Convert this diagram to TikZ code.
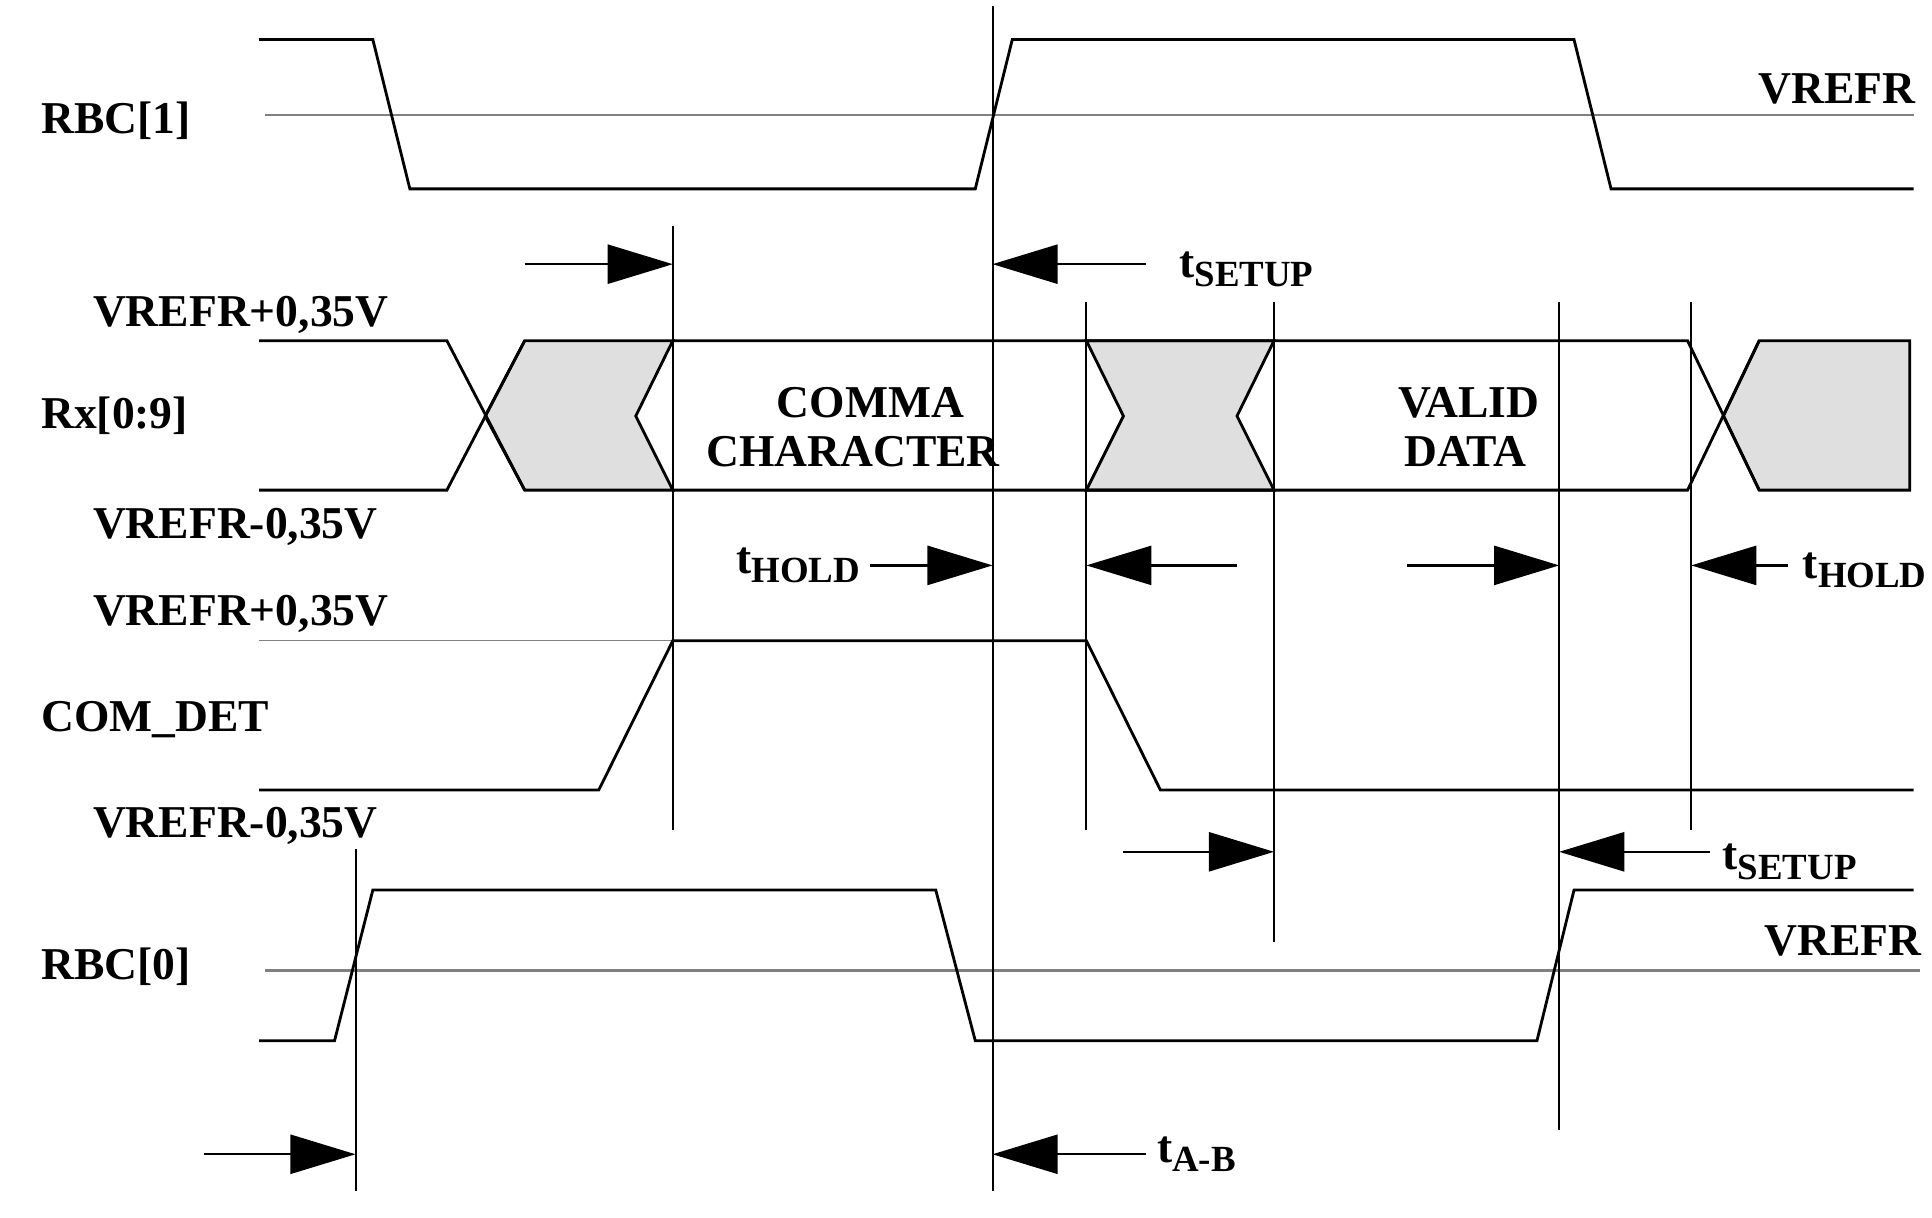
\documentclass[tikz,border=0pt]{standalone}
\usepackage{fontspec}
\setmainfont{Liberation Serif}
\usetikzlibrary{arrows.meta}
\begin{document}
\begin{tikzpicture}[x=0.02cm,y=-0.02cm,
  sig/.style={line width=1.3pt},
  ref/.style={draw=gray,line width=0.8pt},
  vl/.style={line width=0.9pt},
  arr/.style={line width=1.1pt,-{Triangle[length=30pt,width=18pt]}},
  lab/.style={font=\bfseries\fontsize{21}{25}\selectfont,inner sep=0pt},
  shade/.style={fill=gray!25,draw=black,line width=1.3pt}]
\newcommand{\tsub}[1]{t\raisebox{-0.45ex}{\fontsize{17}{20}\selectfont #1}}
\useasboundingbox (0,0) rectangle (1565,986);
% labels
\node[lab,anchor=west] (l1) at (33,98) {RBC[1]};
\node[lab,anchor=west] (l2) at (75,255) {VREFR+0,35V};
\node[lab,anchor=west] (l3) at (33,337) {Rx[0:9]};
\node[lab,anchor=west] (l4) at (75,427) {VREFR-0,35V};
\node[lab,anchor=west] (l5) at (75,497) {VREFR+0,35V};
\node[lab,anchor=west] (l6) at (33,583) {COM\_DET};
\node[lab,anchor=west] (l7) at (75,669) {VREFR-0,35V};
\node[lab,anchor=west] (l8) at (33,783) {RBC[0]};
\node[lab,anchor=east] (l9) at (1552,72) {VREFR};
\node[lab,anchor=east] (l10) at (1557,762) {VREFR};
\node[lab] (c1) at (705,326) {COMMA};
\node[lab] (c2) at (691,366) {CHARACTER};
\node[lab] (d1) at (1190,326) {VALID};
\node[lab] (d2) at (1187,366) {DATA};
% reference lines
\draw[ref] (215,93) -- (1550,93);
\draw[draw=gray,line width=0.6pt] (210,519) -- (545,519);
\draw[draw=gray,line width=1.6pt] (215,786) -- (1555,786);
% RBC[1]
\draw[sig] (210,32)--(302,32)--(332,153)--(790,153)--(820,32)--(1275,32)--(1305,153)--(1550,153);
% Rx
\draw[shade] (393,337)--(425,276)--(545,276)--(515,337)--(545,397)--(425,397)--cycle;
\draw[shade] (880,276)--(1032,276)--(1002,337)--(1032,397)--(880,397)--(910,337)--cycle;
\draw[shade] (1396,337)--(1425,276)--(1547,276)--(1547,397)--(1425,397)--cycle;
\draw[sig] (210,276)--(362,276)--(425,397);
\draw[sig] (210,397)--(362,397)--(425,276);
\draw[sig] (545,276)--(1367,276)--(1425,397);
\draw[sig] (545,397)--(1367,397)--(1425,276);
% COM_DET
\draw[sig] (210,640)--(485,640)--(545,519)--(880,519)--(940,640)--(1550,640);
% RBC[0]
\draw[sig] (210,843)--(271,843)--(302,721)--(758,721)--(790,843)--(1245,843)--(1275,721)--(1550,721);
% vertical lines
\draw[vl] (804,5)--(804,965);
\draw[vl] (545,183)--(545,672);
\draw[vl] (880,245)--(880,672);
\draw[vl] (1032,245)--(1032,763);
\draw[vl] (1263,245)--(1263,915);
\draw[vl] (1370,245)--(1370,672);
\draw[vl] (288,688)--(288,965);
% arrows
\coordinate (a1s) at (425,214); \coordinate (a1e) at (545,214);
\draw[arr] (a1s)--(a1e);
\coordinate (a2s) at (928,214); \coordinate (a2e) at (804,214);
\draw[arr] (a2s)--(a2e);
\node[lab,anchor=west] (ts1) at (955,218) {\tsub{SETUP}};
\node[lab,anchor=east] (th1) at (697,458) {\tsub{HOLD}};
\coordinate (a3e) at (804,458);
\draw[arr] (th1.east)++(8,0) -- (a3e);
\coordinate (a4s) at (1002,458); \coordinate (a4e) at (880,458);
\draw[arr] (a4s)--(a4e);
\coordinate (a5s) at (1140,458); \coordinate (a5e) at (1263,458);
\draw[arr] (a5s)--(a5e);
\coordinate (a6s) at (1448,458); \coordinate (a6e) at (1370,458);
\draw[arr] (a6s)--(a6e);
\node[lab,anchor=west] (th2) at (1460,462) {\tsub{HOLD}};
\coordinate (a7s) at (910,690); \coordinate (a7e) at (1032,690);
\draw[arr] (a7s)--(a7e);
\coordinate (a8s) at (1385,690); \coordinate (a8e) at (1263,690);
\draw[arr] (a8s)--(a8e);
\node[lab,anchor=west] (ts2) at (1395,698) {\tsub{SETUP}};
\coordinate (a9s) at (165,935); \coordinate (a9e) at (288,935);
\draw[arr] (a9s)--(a9e);
\coordinate (a10s) at (928,935); \coordinate (a10e) at (804,935);
\draw[arr] (a10s)--(a10e);
\node[lab,anchor=west] (tab) at (937,935) {\tsub{A-B}};
\end{tikzpicture}
\end{document}
